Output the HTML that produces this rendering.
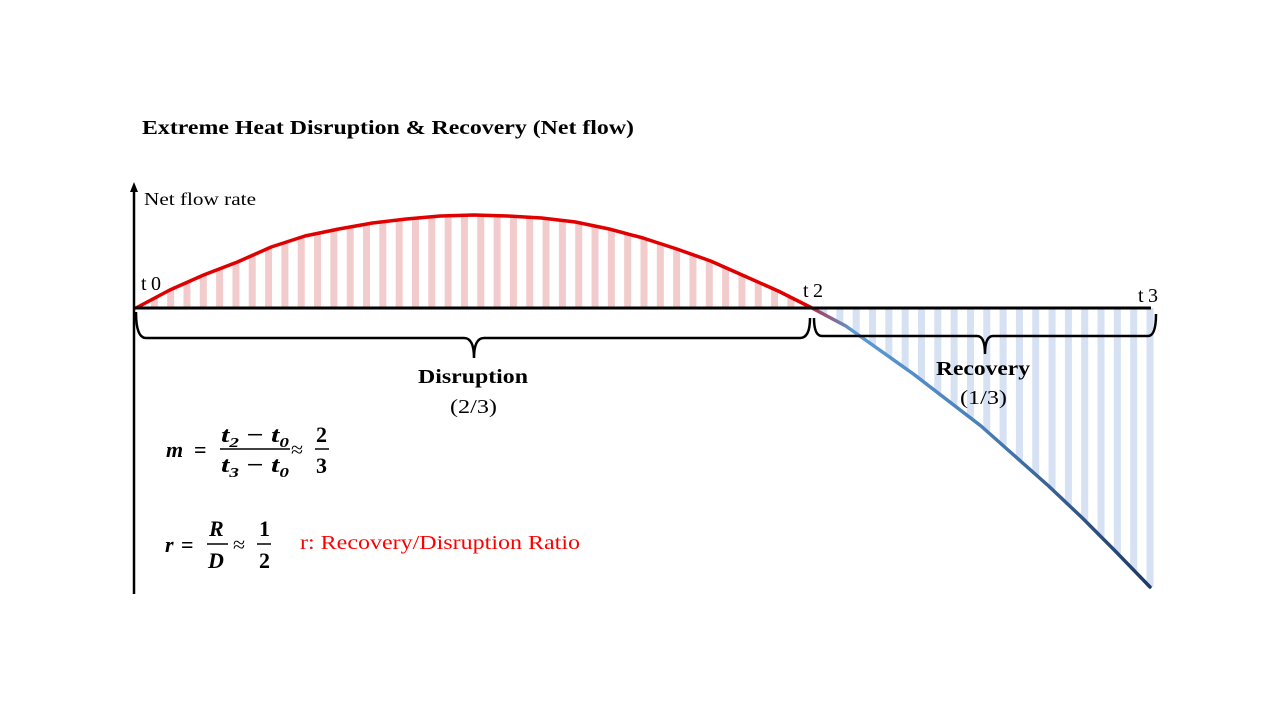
<!DOCTYPE html>
<html><head><meta charset="utf-8"><style>
body{margin:0;background:#fff;}
svg{display:block;font-family:"Liberation Serif","Times New Roman",serif;}
</style></head><body>
<svg width="1280" height="720">
<defs>
<linearGradient id="recg" gradientUnits="userSpaceOnUse" x1="812" y1="0" x2="1150" y2="0">
<stop offset="0" stop-color="#b0324a"/><stop offset="0.12" stop-color="#5b9bd5"/><stop offset="0.5" stop-color="#4a7fb8"/><stop offset="1" stop-color="#1f3864"/>
</linearGradient>
</defs>
<g id="stripes"></g>
<g id="curves"></g>
<text x="142" y="134" font-size="20" font-weight="bold" textLength="492" lengthAdjust="spacingAndGlyphs">Extreme Heat Disruption &amp; Recovery (Net flow)</text>
<line x1="134" y1="594" x2="134" y2="190" stroke="#000" stroke-width="2.5"/>
<polygon points="134,182 130,192 138,192" fill="#000"/>
<text x="144" y="205" font-size="18" textLength="112" lengthAdjust="spacingAndGlyphs">Net flow rate</text>
<line x1="134" y1="308" x2="1151" y2="308" stroke="#000" stroke-width="3"/>
<text x="141" y="290" font-size="20" textLength="20">t0</text>
<text x="803" y="297" font-size="20" textLength="20">t2</text>
<text x="1138" y="302" font-size="20" textLength="20">t3</text>
<path d="M136,312 Q136,338 146,338 L464,338 Q474,338 474,358 Q474,338 484,338 L800,338 Q810,338 810,318" fill="none" stroke="#000" stroke-width="2.5"/>
<path d="M814,318 Q814,336 822,336 L977,336 Q985,336 985,354 Q985,336 993,336 L1148,336 Q1156,336 1156,314" fill="none" stroke="#000" stroke-width="2.5"/>
<text x="418" y="383" font-size="20" font-weight="bold" textLength="110" lengthAdjust="spacingAndGlyphs">Disruption</text>
<text x="450" y="413" font-size="20" textLength="47" lengthAdjust="spacingAndGlyphs">(2/3)</text>
<text x="936" y="375" font-size="20" font-weight="bold" textLength="94" lengthAdjust="spacingAndGlyphs">Recovery</text>
<text x="960" y="404" font-size="20" textLength="47" lengthAdjust="spacingAndGlyphs">(1/3)</text>
<g font-weight="bold" font-style="italic" font-size="22">
<text x="166" y="457">m</text><text x="194" y="457" font-style="normal">=</text>
<text x="221" y="442" textLength="68" lengthAdjust="spacingAndGlyphs">t<tspan font-size="14" dy="5">2</tspan><tspan dy="-5" font-style="normal"> − </tspan>t<tspan font-size="14" dy="5">0</tspan></text>
<line x1="220" y1="449" x2="290" y2="449" stroke="#000" stroke-width="1.5"/>
<text x="221" y="472" textLength="68" lengthAdjust="spacingAndGlyphs">t<tspan font-size="14" dy="5">3</tspan><tspan dy="-5" font-style="normal"> − </tspan>t<tspan font-size="14" dy="5">0</tspan></text>
<text x="291" y="457" font-style="normal" font-weight="normal">≈</text>
<text x="316" y="442" font-style="normal">2</text><line x1="315" y1="449" x2="329" y2="449" stroke="#000" stroke-width="1.5"/><text x="316" y="473" font-style="normal">3</text>
</g>
<g font-weight="bold" font-style="italic" font-size="22">
<text x="165" y="552">r</text><text x="181" y="552" font-style="normal">=</text>
<text x="209" y="536">R</text><line x1="207" y1="544" x2="228" y2="544" stroke="#000" stroke-width="1.5"/><text x="208" y="568">D</text>
<text x="233" y="552" font-style="normal" font-weight="normal">≈</text>
<text x="259" y="536" font-style="normal">1</text><line x1="257" y1="544" x2="271" y2="544" stroke="#000" stroke-width="1.5"/><text x="259" y="568" font-style="normal">2</text>
</g>
<text x="300" y="549" font-size="20" fill="#ff0000" textLength="280" lengthAdjust="spacingAndGlyphs">r: Recovery/Disruption Ratio</text>
</svg>
<script>
const times = [0,1,2,3,4,5,6,7,8,9,10,11,12,13,14,15,16,17,18,19,20,21,22,23,24,25,26,27,28,29,30];
const netFlow = [0,18,33,46,61,72,79,85,89,92,93,92,90,86,79,70,59,47,32,17,0,-18,-42,-66,-92,-118,-148,-178,-210,-244,-279];
const t2Index = 20;
const NS='http://www.w3.org/2000/svg';
const x = t => 136 + t*(1150-136)/30;
const y = v => 308 - v;
function interp(t){
  for(let i=0;i<times.length-1;i++){
    if(t>=times[i]&&t<=times[i+1]){const f=(t-times[i])/(times[i+1]-times[i]);return netFlow[i]+f*(netFlow[i+1]-netFlow[i]);}
  }
  return netFlow[netFlow.length-1];
}
const sg=document.getElementById('stripes');
const nStripes=63;
const tStart=(138-136)/((1150-136)/30);
for(let i=0;i<nStripes;i++){
  const t=tStart+i*(30-tStart)/(nStripes-1);
  const v=interp(t);
  const r=document.createElementNS(NS,'rect');
  
  
  const top=Math.min(y(v),308), h=Math.abs(y(v)-308);
  r.setAttribute('x',x(t)-3.5);r.setAttribute('y',top);r.setAttribute('width',7);r.setAttribute('height',h);
  r.setAttribute('fill', v>=0?'#f2cccc':'#d6e1f3');
  sg.appendChild(r);
}
const cg=document.getElementById('curves');
function pathFor(a,b){let d='';for(let i=a;i<=b;i++){d+=(i===a?'M':'L')+x(times[i])+','+y(netFlow[i]);}return d;}
const p1=document.createElementNS(NS,'path');


p1.setAttribute('d',pathFor(0,t2Index));p1.setAttribute('fill','none');p1.setAttribute('stroke','#e00000');p1.setAttribute('stroke-width','3.5');p1.setAttribute('stroke-linejoin','round');
cg.appendChild(p1);
const p2=document.createElementNS(NS,'path');


p2.setAttribute('d',pathFor(t2Index,times.length-1));p2.setAttribute('fill','none');p2.setAttribute('stroke','url(#recg)');p2.setAttribute('stroke-width','3.5');p2.setAttribute('stroke-linejoin','round');p2.setAttribute('stroke-linecap','round');
cg.appendChild(p2);
</script>
</body></html>
